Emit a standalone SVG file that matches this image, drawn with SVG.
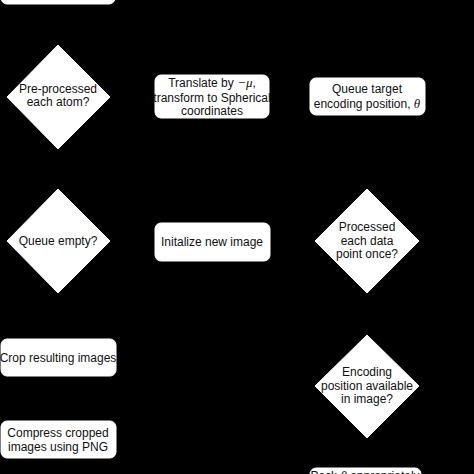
<svg xmlns="http://www.w3.org/2000/svg" width="474" height="474" viewBox="0 0 474 474">
<style>
.bg{fill:#000}
.box{fill:#fff;stroke:#fff;stroke-width:1}
.dia{fill:#fff;stroke:#fff;stroke-width:1}
text{font-family:"Liberation Sans",Arial,sans-serif;font-size:12px;fill:#111;text-anchor:middle}
.m{font-family:"Liberation Serif","Times New Roman",serif;font-style:italic;font-size:13px}
.conn{fill:none;stroke:#000;stroke-width:1}
</style>
<rect class="bg" x="0" y="0" width="474" height="474"/>
<g id="connectors"></g>
<g id="start">
<rect class="box" x="1" y="-30" width="114" height="34" rx="6"/>
</g>
<g id="preprocessed">
<polygon class="dia" points="58,45 110,97 58,149 7,97"/>
<text x="58" y="93">Pre-processed</text>
<text x="58" y="106">each atom?</text>
</g>
<g id="translate">
<rect class="box" x="155" y="75" width="114" height="43" rx="6"/>
<text x="212" y="87">Translate by <tspan class="m">−μ</tspan>,</text>
<text x="212" y="102">transform to Spherical</text>
<text x="212" y="115">coordinates</text>
</g>
<g id="queuetarget">
<rect class="box" x="310" y="78" width="115" height="37" rx="6"/>
<text x="367" y="93">Queue target</text>
<text x="367" y="108">encoding position, <tspan class="m">θ</tspan></text>
</g>
<g id="queueempty">
<polygon class="dia" points="58,189 110,241 58,293 7,241"/>
<text x="58" y="245">Queue empty?</text>
</g>
<g id="initialize">
<rect class="box" x="155" y="223" width="115" height="38" rx="6"/>
<text x="212" y="246">Initalize new image</text>
</g>
<g id="processed">
<polygon class="dia" points="367,189 419,241 367,293 315,241"/>
<text x="367" y="231">Processed</text>
<text x="367" y="245">each data</text>
<text x="367" y="258">point once?</text>
</g>
<g id="crop">
<rect class="box" x="1" y="339" width="115" height="37" rx="6"/>
<text x="58" y="362">Crop resulting images</text>
</g>
<g id="compress">
<rect class="box" x="1" y="421" width="115" height="37" rx="6"/>
<text x="58" y="437">Compress cropped</text>
<text x="58" y="451">images using PNG</text>
</g>
<g id="encoding">
<polygon class="dia" points="367,335 419,386 367,438 315,386"/>
<text x="367" y="376">Encoding</text>
<text x="367" y="390">position available</text>
<text x="367" y="403">in image?</text>
</g>
<g id="pack">
<rect class="box" x="310" y="468" width="111" height="30" rx="6"/>
<text x="365" y="480">Pack <tspan class="m">θ</tspan> appropriately</text>
</g>
</svg>
